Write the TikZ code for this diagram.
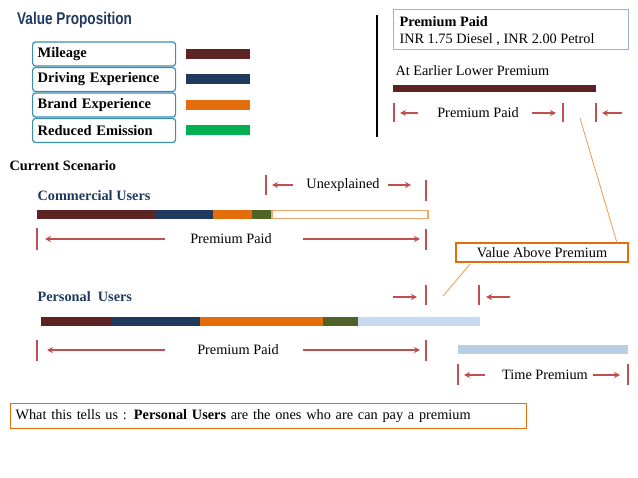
\documentclass[tikz,border=0pt]{standalone}
\usepackage{fontspec}
\setmainfont{Liberation Serif}
\newfontfamily\headfont{Liberation Sans}
\usetikzlibrary{arrows.meta}
\definecolor{vpnavy}{HTML}{1F3A5F}
\definecolor{vpmaroon}{HTML}{5C2323}
\definecolor{vporange}{HTML}{E46C0A}
\definecolor{vpgreen}{HTML}{00B050}
\definecolor{vpolive}{HTML}{4F6228}
\definecolor{vpteal}{HTML}{3A8FB0}
\definecolor{vpred}{HTML}{C0504D}
\definecolor{vpsky}{HTML}{C6D9F1}
\definecolor{vpsky2}{HTML}{B9CDE5}
\definecolor{vpframe}{HTML}{95B3D7}
\tikzset{
	legend/.style={draw=vpteal, line width=1.2pt, rounded corners=3pt, minimum width=143pt, minimum height=24pt, anchor=west, inner sep=5pt, text width=133pt, align=left, font=\bfseries\fontsize{14.5}{14.5}\selectfont},
	tick/.style={vpred, line width=1.3pt},
	arr/.style={vpred, line width=1.3pt, -{Stealth[length=6pt,width=6pt]}},
	lbl/.style={font=\fontsize{14.3}{14.3}\selectfont},
	bold/.style={font=\bfseries\fontsize{14.3}{14.3}\selectfont, anchor=west}
}
\begin{document}
\begin{tikzpicture}[x=1pt, y=-1pt]
			\useasboundingbox (0,0) rectangle (638,478);
			% legend
			\node[anchor=west, font=\headfont\bfseries\fontsize{17}{17}\selectfont, text=vpnavy, xscale=0.8, inner sep=0] (title) at (17,20) {Value Proposition};
			\foreach \name/\txt/\y/\col in {
				mileage/Mileage/54/vpmaroon,
				driving/Driving Experience/79.5/vpnavy,
				brand/Brand Experience/105/vporange,
				emission/Reduced Emission/130.5/vpgreen}{
			\node[legend] (\name) at (32,\y) {\txt};
			\fill[\col] (186,\y-5) rectangle (250,\y+5);
			}
			\draw[black, line width=1.5pt] (377,15) -- (377,137);
			% earlier premium
			\draw[vpframe, line width=1pt] (393,10) rectangle (628,50);
			\node[bold] (paid) at (396,22) {Premium Paid};
			\node[lbl, anchor=west] (inr) at (396,40) {INR 1.75 Diesel , INR 2.00 Petrol};
			\node[lbl, anchor=west] (earlier) at (392,71) {At Earlier Lower Premium};
			\fill[vpmaroon] (393,85) rectangle (596,92);
			\node[lbl] (paidtop) at (478,113) {Premium Paid};
			\draw[tick] (394,103) -- (394,122);
			\draw[arr] (418,113) -- (400,113);
			\draw[arr] (532,113) -- (556,113);
			\draw[tick] (563,103) -- (563,122);
			\draw[tick] (596,103) -- (596,122);
			\draw[arr] (622,113) -- (602,113);
			% value above premium
			\node[draw=vporange, line width=1.2pt, lbl, minimum width=172pt, minimum height=19pt, inner sep=0] (above) at (542,252.5) {Value Above Premium};
			\coordinate (toppt) at (580,118);
			\coordinate (midpt) at (443,296);
			\draw[vporange!70, line width=0.8pt] (toppt) -- (617,243);
			\draw[vporange!70, line width=0.8pt] (midpt) -- (470,264);
			% commercial users
			\node[bold] (scenario) at (6,166) {Current Scenario};
			\node[bold, text=vpnavy] (commercial) at (34,196) {Commercial Users};
			\node[lbl] (unexpl) at (343,185) {Unexplained};
			\draw[tick] (266,175) -- (266,195);
			\draw[arr] (293,185) -- (272,185);
			\draw[arr] (388,185) -- (411,185);
			\draw[tick] (426,180) -- (426,201);
			\fill[vpmaroon] (37,210) rectangle (155,219);
			\fill[vpnavy] (155,210) rectangle (213,219);
			\fill[vporange] (213,210) rectangle (252,219);
			\fill[vpolive] (252,210) rectangle (272,219);
			\draw[vporange!60, line width=1.2pt] (272,210.5) rectangle (428,218.5);
			\node[lbl] (paidcom) at (231,239) {Premium Paid};
			\draw[tick] (37,228) -- (37,250);
			\draw[arr] (165,239) -- (45,239);
			\draw[arr] (303,239) -- (420,239);
			\draw[tick] (426,229) -- (426,250);
			% personal users
			\node[bold, text=vpnavy] (personal) at (34,297) {Personal\ \ Users};
			\draw[arr] (393,297) -- (417,297);
			\draw[tick] (426,285) -- (426,305);
			\draw[tick] (479,285) -- (479,305);
			\draw[arr] (510,297) -- (486,297);
			\fill[vpmaroon] (41,317) rectangle (112,326);
			\fill[vpnavy] (112,317) rectangle (200,326);
			\fill[vporange] (200,317) rectangle (323,326);
			\fill[vpolive] (323,317) rectangle (358,326);
			\fill[vpsky] (358,317) rectangle (480,326);
			\node[lbl] (paidper) at (238,350) {Premium Paid};
			\draw[tick] (37,340) -- (37,361);
			\draw[arr] (165,350) -- (47,350);
			\draw[arr] (303,350) -- (420,350);
			\draw[tick] (426,340) -- (426,361);
			% time premium
			\fill[vpsky2] (458,345) rectangle (628,354);
			\node[lbl] (time) at (545,375) {Time Premium};
			\draw[tick] (458,364) -- (458,385);
			\draw[arr] (485,375) -- (464,375);
			\draw[arr] (593,375) -- (620,375);
			\draw[tick] (628,364) -- (628,385);
			% conclusion
			\node[draw=vporange, line width=1.2pt, lbl, anchor=north west, minimum width=516pt, minimum height=25pt, text width=506pt, align=left, inner sep=5pt] (tells) at (10,403) {What this tells us : \textbf{Personal Users} are the ones who are can pay a premium};
\end{tikzpicture}
\end{document}
